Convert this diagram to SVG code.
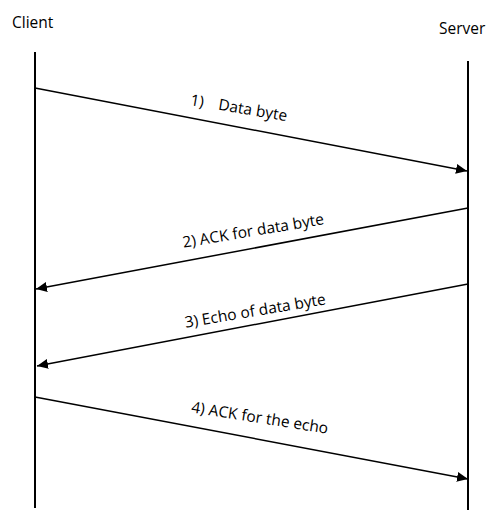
<svg xmlns="http://www.w3.org/2000/svg" width="502" height="528" viewBox="0 0 502 528">
<style>
.lbl{font-family:"Open Sans","Liberation Sans",sans-serif;font-size:15.5px;fill:#000}
.life{stroke:#000;stroke-width:2;fill:none}
.msg{stroke:#000;stroke-width:1.5;fill:none;marker-end:url(#ah)}
</style>
<defs>
<marker id="ah" markerUnits="userSpaceOnUse" markerWidth="12" markerHeight="10" refX="11" refY="5" orient="auto">
<path d="M0,0 L11,5 L0,10 Z" fill="#000"/>
</marker>
</defs>
<rect width="502" height="528" fill="#fff"/>
<g id="client">
<text class="lbl" x="12" y="28">Client</text>
<line class="life" x1="35" y1="52" x2="35" y2="508"/>
</g>
<g id="server">
<text class="lbl" x="439" y="34">Server</text>
<line class="life" x1="468" y1="61" x2="468" y2="510"/>
</g>
<g id="connectors">
<line class="msg" x1="35" y1="88" x2="467" y2="171"/>
<line class="msg" x1="468" y1="208" x2="36" y2="289"/>
<line class="msg" x1="468" y1="284" x2="37" y2="366"/>
<line class="msg" x1="35" y1="397" x2="468" y2="479"/>
</g>
<g id="labels">
<text class="lbl" text-anchor="middle" transform="translate(238,113) rotate(9.5)">1)<tspan dx="15">Data byte</tspan></text>
<text class="lbl" text-anchor="middle" transform="translate(254,236) rotate(-9.5)">2) ACK for data byte</text>
<text class="lbl" text-anchor="middle" transform="translate(256,316) rotate(-9.5)">3) Echo of data byte</text>
<text class="lbl" text-anchor="middle" transform="translate(259,423) rotate(9)">4) ACK for the echo</text>
</g>
</svg>
